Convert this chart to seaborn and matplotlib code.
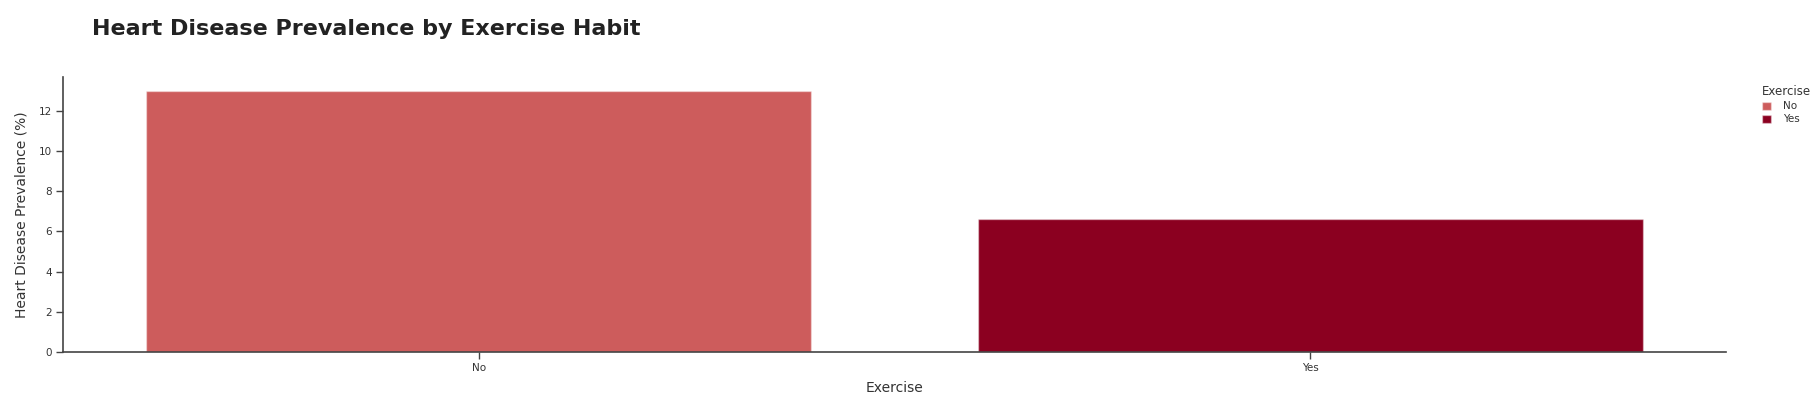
import matplotlib
matplotlib.use('Agg')
import matplotlib.pyplot as plt
import seaborn as sns
import pandas as pd

# values
exercise = ['No', 'Yes']
prevalence = [13.0, 6.6]
bar_colors = ['#cd5c5c', '#8b0020']

df = pd.DataFrame({'Exercise': exercise, 'Prevalence': prevalence})

sns.set_style('white')
plt.rcParams['font.family'] = ['DejaVu Sans']

fig = plt.figure(figsize=(18.16, 4.05), dpi=100)
ax = fig.add_axes([63 / 1816, 53 / 405, (1726 - 63) / 1816, (352 - 77) / 405])

sns.barplot(data=df, x='Exercise', y='Prevalence', hue='Exercise',
            palette=dict(zip(exercise, bar_colors)), width=0.8,
            dodge=False, saturation=1, legend=True, ax=ax,
            edgecolor=(1, 1, 1, 0.4), linewidth=1)

ax.set_xlim(-0.5, 1.5)
ax.set_ylim(0, 13.68)
ax.set_yticks([0, 2, 4, 6, 8, 10, 12])

for side in ['top', 'right']:
    ax.spines[side].set_visible(False)
for side in ['left', 'bottom']:
    ax.spines[side].set_color('#444444')
    ax.spines[side].set_linewidth(1.2)

ax.tick_params(axis='both', which='both', direction='out', length=5, width=1,
               color='#444444', labelsize=7.5, labelcolor='#333333', pad=3,
               bottom=True, left=True)

ax.set_xlabel('Exercise', fontsize=10, color='#333333', labelpad=6)
ax.set_ylabel('Heart Disease Prevalence (%)', fontsize=10, color='#333333', labelpad=7)

fig.text(92 / 1816, 1 - 29 / 405, 'Heart Disease Prevalence by Exercise Habit',
         fontsize=16, fontweight='bold', color='#222222', va='center', ha='left')

# legend on the right side, like the original
handles, labels = ax.get_legend_handles_labels()
ax.get_legend().remove()
leg = fig.legend(handles, labels, title='Exercise', loc='upper left',
                 bbox_to_anchor=(1756 / 1816, 1 - 79 / 405), frameon=False,
                 fontsize=7.5, title_fontsize=8.5, handlelength=0.8,
                 handleheight=0.8, handletextpad=1.2, labelspacing=0.3,
                 borderpad=0.1)
leg._legend_box.align = 'left'
for t in leg.get_texts():
    t.set_color('#333333')
leg.get_title().set_color('#333333')

fig.savefig('out.png', dpi=100, facecolor='white')
